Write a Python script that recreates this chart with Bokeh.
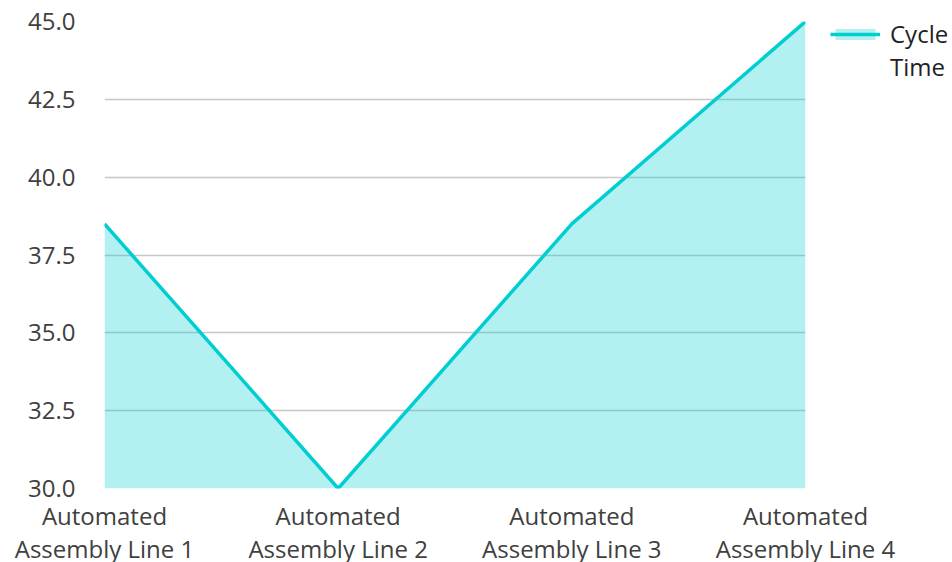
from bokeh.plotting import figure
from bokeh.models import Range1d, FixedTicker, Legend, LegendItem, ColumnDataSource
from bokeh.embed import file_html
from bokeh.resources import INLINE

categories = ["Automated\nAssembly Line 1", "Automated\nAssembly Line 2",
              "Automated\nAssembly Line 3", "Automated\nAssembly Line 4"]
cycle_time = [38.5, 30.0, 38.5, 45.0]
y_ticks = [30.0, 32.5, 35.0, 37.5, 40.0, 42.5, 45.0]
series_label_lines = ["Cycle", "Time"]

xs = list(range(len(categories)))
src = ColumnDataSource(dict(x=xs, y=cycle_time, base=[y_ticks[0]] * len(xs)))

FONT = "Open Sans"
p = figure(frame_width=701, frame_height=467,
           output_backend="svg", toolbar_location=None,
           x_range=Range1d(xs[0], xs[-1]), y_range=Range1d(y_ticks[0], y_ticks[-1]),
           min_border_left=104, min_border_top=21, min_border_bottom=10, min_border_right=147)
p.outline_line_color = None
p.background_fill_color = "white"
p.border_fill_color = "white"

area = p.varea(x="x", y1="base", y2="y", source=src, fill_color="#00CED1", fill_alpha=0.3)
line = p.line(x="x", y="y", source=src, line_color="#00CED1", line_width=3.5)
# empty, fully transparent renderer carrying the legend label's second line
blank = p.line(x=[], y=[], line_alpha=0)

p.xgrid.visible = False
p.ygrid.grid_line_color = "#c8c8c8"
p.ygrid.grid_line_width = 1.5
p.yaxis.ticker = FixedTicker(ticks=y_ticks)
p.yaxis.major_label_overrides = {t: f"{t:.1f}" for t in y_ticks}
p.xaxis.ticker = FixedTicker(ticks=xs)
p.xaxis.major_label_overrides = {i: c for i, c in zip(xs, categories)}

for ax in (p.xaxis[0], p.yaxis[0]):
    ax.axis_line_color = None
    ax.major_tick_line_color = None
    ax.minor_tick_line_color = None
    ax.major_label_text_font = FONT
    ax.major_label_text_font_size = "24px"
    ax.major_label_text_color = "#404040"
p.xaxis.major_label_text_line_height = 1.0
p.yaxis.major_label_standoff = 23
p.xaxis.major_label_standoff = 4

legend = Legend(items=[LegendItem(label=series_label_lines[0], renderers=[area, line]),
                       LegendItem(label=series_label_lines[1], renderers=[blank])],
                location=(25, 405), label_text_font=FONT, label_text_font_size="24px",
                label_text_color="#222222", glyph_width=50, glyph_height=14,
                label_height=20, spacing=0,
                border_line_color=None, background_fill_alpha=0, padding=0, margin=0,
                label_standoff=10)
p.add_layout(legend, "right")

open("out.html", "w").write(file_html(p, INLINE))
